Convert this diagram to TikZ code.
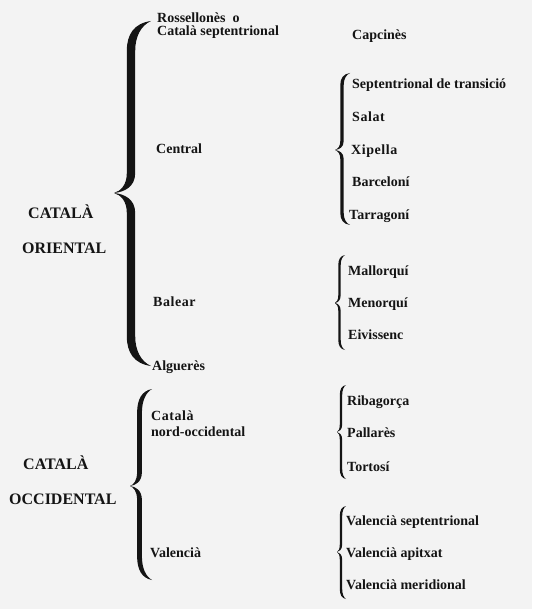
\documentclass[tikz,border=0pt]{standalone}
\usepackage{fontspec}
\setmainfont{Liberation Serif}
\newcommand\calbrace[9]{%
% #1 end x, #2 top y, #3 stem x, #4 tip x, #5 mid y, #6 bottom y, #7 half width, #8 hook length, #9 tip length
\fill[bracefill] (#1,#2)
 .. controls ({#3-#7+0.35*(#1-#3)},{#2+0.08*#8}) and ({#3-#7},{#2+0.45*#8}) .. ({#3-#7},{#2+#8})
 -- ({#3-#7},{#5-#9})
 .. controls ({#3-#7},{#5-0.4*#9}) and ({#4+0.4*(#3-#4)},{#5-0.1*#9}) .. (#4,#5)
 .. controls ({#4+0.4*(#3-#4)},{#5+0.1*#9}) and ({#3-#7},{#5+0.4*#9}) .. ({#3-#7},{#5+#9})
 -- ({#3-#7},{#6-#8})
 .. controls ({#3-#7},{#6-0.45*#8}) and ({#3-#7+0.35*(#1-#3)},{#6-0.08*#8}) .. (#1,#6)
 .. controls ({#3+#7+0.3*(#1-#3)},{#6-0.15*#8}) and ({#3+#7},{#6-0.5*#8}) .. ({#3+#7},{#6-#8})
 -- ({#3+#7},{#5+#9})
 .. controls ({#3+#7},{#5+0.3*#9}) and ({#4+0.6*(#3-#4)},{#5+0.05*#9}) .. (#4,#5)
 .. controls ({#4+0.6*(#3-#4)},{#5-0.05*#9}) and ({#3+#7},{#5-0.3*#9}) .. ({#3+#7},{#5-#9})
 -- ({#3+#7},{#2+#8})
 .. controls ({#3+#7},{#2+0.5*#8}) and ({#3+#7+0.3*(#1-#3)},{#2+0.15*#8}) .. (#1,#2) -- cycle;
}
\definecolor{paper}{RGB}{243,243,243}
\definecolor{ink}{RGB}{20,20,20}
\begin{document}
\begin{tikzpicture}[x=1pt,y=-1pt,
  lbl/.style={anchor=base west, inner sep=0pt, text=ink, font=\bfseries\fontsize{14}{16}\selectfont},
  spaced/.style={lbl, font=\bfseries\fontsize{14}{16}\selectfont\addfontfeature{LetterSpace=4}},
  big/.style={anchor=base west, inner sep=0pt, text=ink, font=\bfseries\fontsize{16}{18}\selectfont},
  bracefill/.style={fill=ink}]
\fill[paper] (0,0) rectangle (532,609);
\useasboundingbox (0,0) rectangle (532,609);
% main groups
\node[big] (cat1) at (28,219) {CATALÀ};
\node[big] (ori) at (22,254) {ORIENTAL};
\node[big] (cat2) at (23,469) {CATALÀ};
\node[big] (occ) at (9,504) {OCCIDENTAL};
% dialects
\node[lbl] (ros) at (157,23) {Rossellonès\hspace{7pt}o};
\node[lbl] (sep) at (157,36) {Català septentrional};
\node[lbl] (cen) at (156,154) {Central};
\node[spaced] (bal) at (153,306) {Balear};
\node[lbl] (alg) at (152,370) {Alguerès};
\node[spaced] (nor1) at (151,420) {Català};
\node[lbl] (nor2) at (151,436) {nord-occidental};
\node[lbl] (val) at (150,557) {Valencià};
% subdialects
\node[lbl] (cap) at (352,40) {Capcinès};
\node[lbl] (s1) at (352,89) {Septentrional de transició};
\node[spaced] (s2) at (352,121.7) {Salat};
\node[spaced] (s3) at (351,154.4) {Xipella};
\node[lbl] (s4) at (352,187) {Barceloní};
\node[lbl] (s5) at (349,219.7) {Tarragoní};
\node[lbl] (b1) at (348,275) {Mallorquí};
\node[lbl] (b2) at (348,307) {Menorquí};
\node[lbl] (b3) at (348,339) {Eivissenc};
\node[lbl] (n1) at (347,405) {Ribagorça};
\node[lbl] (n2) at (347,437) {Pallarès};
\node[lbl] (n3) at (347,471) {Tortosí};
\node[lbl] (v1) at (346,525) {Valencià septentrional};
\node[lbl] (v2) at (346,557) {Valencià apitxat};
\node[lbl] (v3) at (346,589) {Valencià meridional};
% braces
\calbrace{151}{21}{131}{114}{193}{366}{4.2}{30}{20}
\calbrace{152}{389}{139.5}{130}{486}{580}{2.4}{24}{14}
\calbrace{350}{73}{342}{335}{150}{225}{1.7}{12}{9}
\calbrace{345}{255}{339.5}{335}{303}{350}{1.2}{10}{8}
\calbrace{346}{385}{341}{337}{432}{479}{1.2}{10}{8}
\calbrace{346}{506}{341}{337}{552}{599}{1.2}{10}{8}
\end{tikzpicture}
\end{document}
